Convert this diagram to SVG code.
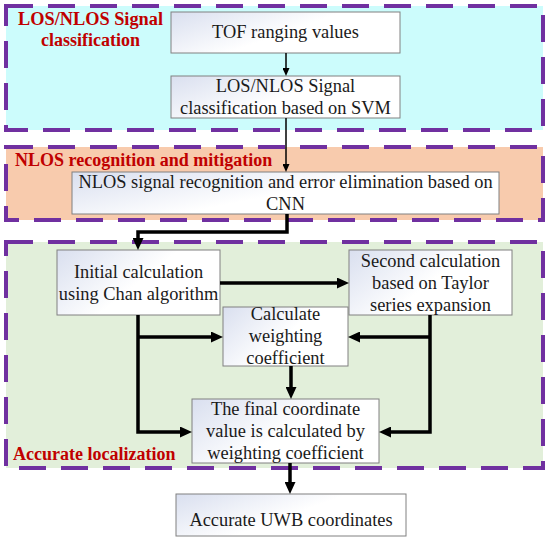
<svg xmlns="http://www.w3.org/2000/svg" width="550" height="541" viewBox="0 0 550 541">
<style>
.zone{stroke:#7030a0;stroke-width:4;stroke-dasharray:27 15;}
.box{fill:url(#bg);stroke:#808080;stroke-width:1;}
.t{font-family:"Liberation Serif","Times New Roman",serif;font-size:18.4px;fill:#1a1a1a;text-anchor:middle;}
.h{font-family:"Liberation Serif","Times New Roman",serif;font-size:18px;font-weight:bold;fill:#c00000;}
.thin{fill:none;stroke:#000;stroke-width:1.5;marker-end:url(#at);}
.thick{fill:none;stroke:#000;stroke-width:3.5;marker-end:url(#ah);}
</style>
<defs>
<linearGradient id="bg" x1="0" y1="0" x2="1" y2="0.5">
<stop offset="0" stop-color="#d9dfef"/>
<stop offset="0.6" stop-color="#ffffff"/>
<stop offset="1" stop-color="#ffffff"/>
</linearGradient>
<marker id="ah" viewBox="0 0 12 11" markerWidth="12" markerHeight="11" markerUnits="userSpaceOnUse" refX="2" refY="5.5" orient="auto">
<path d="M0,0 L12,5.5 L0,11 z" fill="#000"/>
</marker>
<marker id="at" viewBox="0 0 8 7" markerWidth="8" markerHeight="7" markerUnits="userSpaceOnUse" refX="1" refY="3.5" orient="auto">
<path d="M0,0 L8,3.5 L0,7 z" fill="#000"/>
</marker>
</defs>
<rect width="550" height="541" fill="#ffffff"/>
<g id="zone-los">
<rect x="6" y="6" width="537" height="124" fill="#ccfcfc" class="zone"/>
<text class="h" x="90.5" y="25" text-anchor="middle" textLength="145" lengthAdjust="spacingAndGlyphs">LOS/NLOS Signal</text>
<text class="h" x="90.5" y="46" text-anchor="middle">classification</text>
</g>
<g id="zone-nlos">
<rect x="6" y="147" width="537" height="73" fill="#f8cbad" class="zone"/>
<text class="h" x="15" y="166">NLOS recognition and mitigation</text>
</g>
<g id="zone-acc">
<rect x="6" y="242" width="537" height="226" fill="#e2efda" class="zone"/>
<text class="h" x="13" y="460">Accurate localization</text>
</g>
<g id="tof">
<rect class="box" x="171" y="12" width="229" height="41"/>
<text class="t" x="285.5" y="38">TOF ranging values</text>
</g>
<g id="svm">
<rect class="box" x="171" y="76" width="229" height="42"/>
<text class="t" x="285.5" y="92">LOS/NLOS Signal</text>
<text class="t" x="285.5" y="114">classification based on SVM</text>
</g>
<g id="cnn">
<rect class="box" x="72" y="172" width="427" height="42"/>
<text class="t" x="285.5" y="188">NLOS signal recognition and error elimination based on</text>
<text class="t" x="285.5" y="210">CNN</text>
</g>
<g id="chan">
<rect class="box" x="57" y="250" width="163" height="65"/>
<text class="t" x="138.5" y="278">Initial calculation</text>
<text class="t" x="138.5" y="300">using Chan algorithm</text>
</g>
<g id="taylor">
<rect class="box" x="349" y="250" width="163" height="65"/>
<text class="t" x="430.5" y="267">Second calculation</text>
<text class="t" x="430.5" y="289">based on Taylor</text>
<text class="t" x="430.5" y="311">series expansion</text>
</g>
<g id="weight">
<rect class="box" x="223" y="307" width="125" height="59"/>
<text class="t" x="285.5" y="320">Calculate</text>
<text class="t" x="285.5" y="342">weighting</text>
<text class="t" x="285.5" y="364">coefficient</text>
</g>
<g id="final">
<rect class="box" x="192" y="399" width="187" height="64"/>
<text class="t" x="285.5" y="415">The final coordinate</text>
<text class="t" x="285.5" y="437">value is calculated by</text>
<text class="t" x="285.5" y="459">weighting coefficient</text>
</g>
<g id="uwb">
<rect class="box" x="176" y="494" width="230" height="42"/>
<text class="t" x="291" y="526">Accurate UWB coordinates</text>
</g>
<g id="connectors">
<path class="thin" d="M286,53 V69"/>
<path class="thin" d="M286,118 V165"/>
<path class="thick" d="M287,214 V232 H138 V240"/>
<path class="thick" d="M220,283 H339"/>
<path class="thick" d="M138,315 V432 H182"/>
<path class="thick" d="M138,337 H213"/>
<path class="thick" d="M430,315 V432 H389"/>
<path class="thick" d="M430,337 H358"/>
<path class="thick" d="M291,366 V389"/>
<path class="thick" d="M290,463 V484"/>
</g>
</svg>
